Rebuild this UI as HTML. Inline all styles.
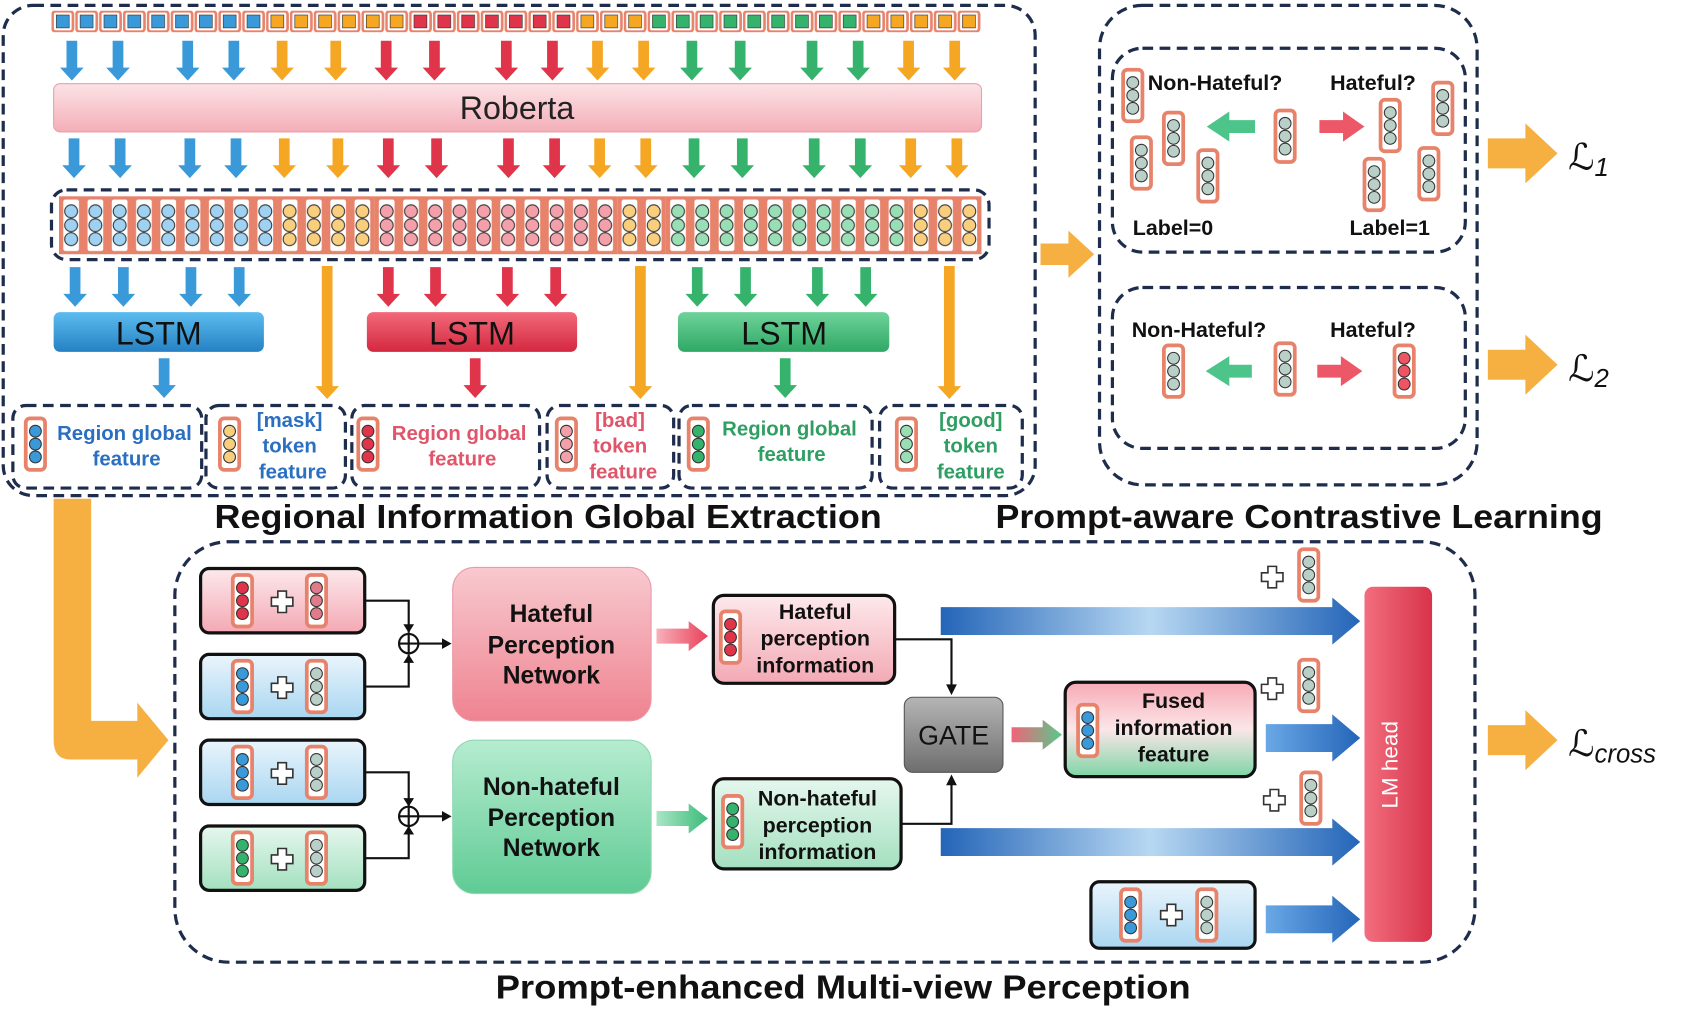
<!DOCTYPE html>
<html><head><meta charset="utf-8"><style>
html,body{margin:0;padding:0;background:#fff}
svg{display:block}
text{font-family:"Liberation Sans","DejaVu Sans",sans-serif}
</style></head><body>
<svg width="1682" height="1033" viewBox="0 0 1568 963" preserveAspectRatio="none" xmlns="http://www.w3.org/2000/svg" xmlns:xlink="http://www.w3.org/1999/xlink">
<defs>
<linearGradient id="gPink" x1="0" y1="0" x2="0" y2="1"><stop offset="0" stop-color="#fbe3e6"/><stop offset="1" stop-color="#f4aeb8"/></linearGradient>
<linearGradient id="gBlueL" x1="0" y1="0" x2="0" y2="1"><stop offset="0" stop-color="#5cbcef"/><stop offset="1" stop-color="#2581c4"/></linearGradient>
<linearGradient id="gRedL" x1="0" y1="0" x2="0" y2="1"><stop offset="0" stop-color="#f26a7a"/><stop offset="1" stop-color="#d4283f"/></linearGradient>
<linearGradient id="gGreenL" x1="0" y1="0" x2="0" y2="1"><stop offset="0" stop-color="#6fd39a"/><stop offset="1" stop-color="#2fa865"/></linearGradient>
<linearGradient id="gHate" x1="0" y1="0" x2="0" y2="1"><stop offset="0" stop-color="#f8c9cf"/><stop offset="1" stop-color="#ef8390"/></linearGradient>
<linearGradient id="gNon" x1="0" y1="0" x2="0" y2="1"><stop offset="0" stop-color="#b6ecd0"/><stop offset="1" stop-color="#5fcb94"/></linearGradient>
<linearGradient id="gInPink" x1="0" y1="0" x2="0" y2="1"><stop offset="0" stop-color="#fde9ec"/><stop offset="1" stop-color="#f3a9b4"/></linearGradient>
<linearGradient id="gInBlue" x1="0" y1="0" x2="0" y2="1"><stop offset="0" stop-color="#eaf5fc"/><stop offset="1" stop-color="#a9d6f1"/></linearGradient>
<linearGradient id="gInGreen" x1="0" y1="0" x2="0" y2="1"><stop offset="0" stop-color="#e6f7ee"/><stop offset="1" stop-color="#a3e0bf"/></linearGradient>
<linearGradient id="gFused" x1="0" y1="0" x2="0" y2="1"><stop offset="0" stop-color="#f7aab5"/><stop offset="0.5" stop-color="#fbe6e8"/><stop offset="1" stop-color="#7fd5a6"/></linearGradient>
<linearGradient id="gGate" x1="0" y1="0" x2="0" y2="1"><stop offset="0" stop-color="#b5b5b5"/><stop offset="1" stop-color="#6e6e6e"/></linearGradient>
<linearGradient id="gLM" x1="0" y1="0" x2="1" y2="0"><stop offset="0" stop-color="#f26e7e"/><stop offset="1" stop-color="#d8334a"/></linearGradient>
<linearGradient id="gBA" x1="0" y1="0" x2="1" y2="0"><stop offset="0" stop-color="#2465b8"/><stop offset="0.5" stop-color="#b8d8f2"/><stop offset="1" stop-color="#2465b8"/></linearGradient>
<linearGradient id="gBA2" x1="0" y1="0" x2="1" y2="0"><stop offset="0" stop-color="#6aa8e6"/><stop offset="1" stop-color="#2465b8"/></linearGradient>
<linearGradient id="gPG" x1="0" y1="0" x2="1" y2="0"><stop offset="0" stop-color="#f06478"/><stop offset="1" stop-color="#58c98b"/></linearGradient>
<linearGradient id="gPA" x1="0" y1="0" x2="1" y2="0"><stop offset="0" stop-color="#f8b0ba"/><stop offset="1" stop-color="#e8425a"/></linearGradient>
<linearGradient id="gGA" x1="0" y1="0" x2="1" y2="0"><stop offset="0" stop-color="#a9e6c5"/><stop offset="1" stop-color="#3cbb7a"/></linearGradient>
<!-- token patterns -->
<pattern id="tb" patternUnits="userSpaceOnUse" x="48" y="10" width="22.23" height="20"><rect x="1" y="0.5" width="19" height="19" rx="3" fill="#fff" stroke="#e8836b" stroke-width="2.5"/><rect x="4.5" y="4" width="12" height="12" fill="#3a9ad9" stroke="#333" stroke-width="0.6"/></pattern>
<pattern id="to" patternUnits="userSpaceOnUse" x="48" y="10" width="22.23" height="20"><rect x="1" y="0.5" width="19" height="19" rx="3" fill="#fff" stroke="#e8836b" stroke-width="2.5"/><rect x="4.5" y="4" width="12" height="12" fill="#f5a623" stroke="#333" stroke-width="0.6"/></pattern>
<pattern id="tr" patternUnits="userSpaceOnUse" x="48" y="10" width="22.23" height="20"><rect x="1" y="0.5" width="19" height="19" rx="3" fill="#fff" stroke="#e8836b" stroke-width="2.5"/><rect x="4.5" y="4" width="12" height="12" fill="#e0344a" stroke="#333" stroke-width="0.6"/></pattern>
<pattern id="tg" patternUnits="userSpaceOnUse" x="48" y="10" width="22.23" height="20"><rect x="1" y="0.5" width="19" height="19" rx="3" fill="#fff" stroke="#e8836b" stroke-width="2.5"/><rect x="4.5" y="4" width="12" height="12" fill="#35b36c" stroke="#333" stroke-width="0.6"/></pattern>
<!-- cell patterns -->
<pattern id="cb" patternUnits="userSpaceOnUse" x="55" y="183" width="22.63" height="54"><rect x="0" y="0" width="22.63" height="54" fill="#e8836b"/><rect x="4" y="3" width="14.6" height="48" rx="2" fill="#fff"/><g fill="#9fd2f2" stroke="#333" stroke-width="1"><circle cx="11.3" cy="14" r="6"/><circle cx="11.3" cy="27" r="6"/><circle cx="11.3" cy="40" r="6"/></g></pattern>
<pattern id="co" patternUnits="userSpaceOnUse" x="55" y="183" width="22.63" height="54"><rect x="0" y="0" width="22.63" height="54" fill="#e8836b"/><rect x="4" y="3" width="14.6" height="48" rx="2" fill="#fff"/><g fill="#f9cf7e" stroke="#333" stroke-width="1"><circle cx="11.3" cy="14" r="6"/><circle cx="11.3" cy="27" r="6"/><circle cx="11.3" cy="40" r="6"/></g></pattern>
<pattern id="cr" patternUnits="userSpaceOnUse" x="55" y="183" width="22.63" height="54"><rect x="0" y="0" width="22.63" height="54" fill="#e8836b"/><rect x="4" y="3" width="14.6" height="48" rx="2" fill="#fff"/><g fill="#f4a0aa" stroke="#333" stroke-width="1"><circle cx="11.3" cy="14" r="6"/><circle cx="11.3" cy="27" r="6"/><circle cx="11.3" cy="40" r="6"/></g></pattern>
<pattern id="cg" patternUnits="userSpaceOnUse" x="55" y="183" width="22.63" height="54"><rect x="0" y="0" width="22.63" height="54" fill="#e8836b"/><rect x="4" y="3" width="14.6" height="48" rx="2" fill="#fff"/><g fill="#99dfb6" stroke="#333" stroke-width="1"><circle cx="11.3" cy="14" r="6"/><circle cx="11.3" cy="27" r="6"/><circle cx="11.3" cy="40" r="6"/></g></pattern>
<g id="pill"><rect x="0" y="0" width="18" height="48" rx="4" fill="#fff" stroke="#e8836b" stroke-width="3.5"/><g fill="currentColor" stroke="#333" stroke-width="1"><circle cx="9" cy="12" r="5.5"/><circle cx="9" cy="24" r="5.5"/><circle cx="9" cy="36" r="5.5"/></g></g>
<path id="ad" d="M-5,0h10v25h6l-11,12l-11,-12h6z" fill="currentColor"/>
<path id="plus" d="M-4,-10h8v6h6v8h-6v6h-8v-6h-6v-8h6z" fill="#fff" stroke="#333" stroke-width="1.5"/>
</defs>

<g fill="none" stroke="#1f2d4d" stroke-width="3" stroke-dasharray="10 6">
<rect x="3" y="5" width="962" height="457" rx="28"/>
<rect x="12" y="378" width="176" height="77" rx="12"/>
<rect x="192" y="378" width="130" height="77" rx="12"/>
<rect x="328" y="378" width="175" height="77" rx="12"/>
<rect x="510" y="378" width="118" height="77" rx="12"/>
<rect x="633" y="378" width="180" height="77" rx="12"/>
<rect x="820" y="378" width="133" height="77" rx="12"/>
<rect x="1025" y="5" width="352" height="447" rx="40"/>
<rect x="1037" y="45" width="329" height="190" rx="28"/>
<rect x="1037" y="268" width="329" height="150" rx="28"/>
<rect x="163" y="505" width="1212" height="392" rx="50"/>
</g>

<!-- token strip -->
<rect x="48" y="10" width="200.07" height="20" fill="url(#tb)"/>
<rect x="248.07" y="10" width="133.38" height="20" fill="url(#to)"/>
<rect x="381.45" y="10" width="155.61" height="20" fill="url(#tr)"/>
<rect x="537.06" y="10" width="66.69" height="20" fill="url(#to)"/>
<rect x="603.75" y="10" width="200.07" height="20" fill="url(#tg)"/>
<rect x="803.82" y="10" width="111.15" height="20" fill="url(#to)"/>

<!-- cell strip -->
<rect x="55" y="183" width="203.67" height="54" fill="url(#cb)"/>
<rect x="258.67" y="183" width="90.52" height="54" fill="url(#co)"/>
<rect x="349.19" y="183" width="226.3" height="54" fill="url(#cr)"/>
<rect x="575.49" y="183" width="45.26" height="54" fill="url(#co)"/>
<rect x="620.75" y="183" width="226.3" height="54" fill="url(#cg)"/>
<rect x="847.05" y="183" width="67.89" height="54" fill="url(#co)"/>
<rect x="48" y="177" width="874" height="65" rx="14" fill="none" stroke="#1f2d4d" stroke-width="3" stroke-dasharray="10 6"/>

<!-- arrows rows 1 and 2 -->
<g>
<use href="#ad" x="67" y="38" color="#3a9ad9"/><use href="#ad" x="110" y="38" color="#3a9ad9"/><use href="#ad" x="175" y="38" color="#3a9ad9"/><use href="#ad" x="218" y="38" color="#3a9ad9"/>
<use href="#ad" x="263" y="38" color="#f5a623"/><use href="#ad" x="313" y="38" color="#f5a623"/>
<use href="#ad" x="360" y="38" color="#e0344a"/><use href="#ad" x="405" y="38" color="#e0344a"/><use href="#ad" x="472" y="38" color="#e0344a"/><use href="#ad" x="515" y="38" color="#e0344a"/>
<use href="#ad" x="557" y="38" color="#f5a623"/><use href="#ad" x="600" y="38" color="#f5a623"/>
<use href="#ad" x="645" y="38" color="#35b36c"/><use href="#ad" x="690" y="38" color="#35b36c"/><use href="#ad" x="757" y="38" color="#35b36c"/><use href="#ad" x="800" y="38" color="#35b36c"/>
<use href="#ad" x="847" y="38" color="#f5a623"/><use href="#ad" x="890" y="38" color="#f5a623"/>

<use href="#ad" x="69" y="129" color="#3a9ad9"/><use href="#ad" x="112" y="129" color="#3a9ad9"/><use href="#ad" x="177" y="129" color="#3a9ad9"/><use href="#ad" x="220" y="129" color="#3a9ad9"/>
<use href="#ad" x="265" y="129" color="#f5a623"/><use href="#ad" x="315" y="129" color="#f5a623"/>
<use href="#ad" x="362" y="129" color="#e0344a"/><use href="#ad" x="407" y="129" color="#e0344a"/><use href="#ad" x="474" y="129" color="#e0344a"/><use href="#ad" x="517" y="129" color="#e0344a"/>
<use href="#ad" x="559" y="129" color="#f5a623"/><use href="#ad" x="602" y="129" color="#f5a623"/>
<use href="#ad" x="647" y="129" color="#35b36c"/><use href="#ad" x="692" y="129" color="#35b36c"/><use href="#ad" x="759" y="129" color="#35b36c"/><use href="#ad" x="802" y="129" color="#35b36c"/>
<use href="#ad" x="849" y="129" color="#f5a623"/><use href="#ad" x="892" y="129" color="#f5a623"/>

<use href="#ad" x="70" y="249" color="#3a9ad9"/><use href="#ad" x="115" y="249" color="#3a9ad9"/><use href="#ad" x="178" y="249" color="#3a9ad9"/><use href="#ad" x="223" y="249" color="#3a9ad9"/>
<use href="#ad" x="362" y="249" color="#e0344a"/><use href="#ad" x="406" y="249" color="#e0344a"/><use href="#ad" x="473" y="249" color="#e0344a"/><use href="#ad" x="518" y="249" color="#e0344a"/>
<use href="#ad" x="650" y="249" color="#35b36c"/><use href="#ad" x="695" y="249" color="#35b36c"/><use href="#ad" x="762" y="249" color="#35b36c"/><use href="#ad" x="807" y="249" color="#35b36c"/>

<use href="#ad" x="153" y="334" color="#3a9ad9"/><use href="#ad" x="443" y="334" color="#e0344a"/><use href="#ad" x="732" y="334" color="#35b36c"/>
</g>
<g fill="#f5a623">
<path d="M300,248h10v112h6l-11,12l-11,-12h6z"/>
<path d="M592,248h10v112h6l-11,12l-11,-12h6z"/>
<path d="M880,248h10v112h6l-11,12l-11,-12h6z"/>
</g>

<rect x="50" y="78" width="865" height="45" rx="6" fill="url(#gPink)" stroke="#e8a0aa"/>
<text x="482" y="111" font-size="30" text-anchor="middle" fill="#222">Roberta</text>
<rect x="50" y="291" width="196" height="37" rx="6" fill="url(#gBlueL)"/>
<rect x="342" y="291" width="196" height="37" rx="6" fill="url(#gRedL)"/>
<rect x="632" y="291" width="197" height="37" rx="6" fill="url(#gGreenL)"/>
<g font-size="30" text-anchor="middle" fill="#111"><text x="148" y="321">LSTM</text><text x="440" y="321">LSTM</text><text x="731" y="321">LSTM</text></g>

<!-- feature pills -->
<use href="#pill" x="24" y="390" color="#3a9ad9"/>
<use href="#pill" x="205" y="390" color="#f9cf7e"/>
<use href="#pill" x="334" y="390" color="#e0344a"/>
<use href="#pill" x="519" y="390" color="#f4a0aa"/>
<use href="#pill" x="642" y="390" color="#35b36c"/>
<use href="#pill" x="836" y="390" color="#99dfb6"/>

<g font-size="19" font-weight="bold" text-anchor="middle">
<text x="116" y="410" fill="#2a6fc0">Region global</text><text x="118" y="434" fill="#2a6fc0">feature</text>
<text x="270" y="398" fill="#2a6fc0">[mask]</text><text x="270" y="422" fill="#2a6fc0">token</text><text x="273" y="446" fill="#2a6fc0">feature</text>
<text x="428" y="410" fill="#e0556a">Region global</text><text x="431" y="434" fill="#e0556a">feature</text>
<text x="578" y="398" fill="#e0556a">[bad]</text><text x="578" y="422" fill="#e0556a">token</text><text x="581" y="446" fill="#e0556a">feature</text>
<text x="736" y="406" fill="#2f9e62">Region global</text><text x="738" y="430" fill="#2f9e62">feature</text>
<text x="905" y="398" fill="#2f9e62">[good]</text><text x="905" y="422" fill="#2f9e62">token</text><text x="905" y="446" fill="#2f9e62">feature</text>
</g>
<g font-size="31" font-weight="bold" text-anchor="middle" fill="#111">
<text x="511" y="492" textLength="622" lengthAdjust="spacingAndGlyphs">Regional Information Global Extraction</text>
<text x="1211" y="492" textLength="566" lengthAdjust="spacingAndGlyphs">Prompt-aware Contrastive Learning</text>
<text x="786" y="931" textLength="648" lengthAdjust="spacingAndGlyphs">Prompt-enhanced Multi-view Perception</text>
</g>

<!-- right panel -->
<g font-size="20" font-weight="bold" fill="#111">
<text x="1070" y="84">Non-Hateful?</text><text x="1240" y="84">Hateful?</text>
<text x="1056" y="219">Label=0</text><text x="1258" y="219">Label=1</text>
<text x="1055" y="314">Non-Hateful?</text><text x="1240" y="314">Hateful?</text>
</g>
<g color="#b9d0c8">
<use href="#pill" x="1047" y="65"/><use href="#pill" x="1085" y="105"/><use href="#pill" x="1055" y="128"/><use href="#pill" x="1117" y="140"/>
<use href="#pill" x="1189" y="103"/><use href="#pill" x="1287" y="93"/><use href="#pill" x="1336" y="77"/><use href="#pill" x="1272" y="148"/><use href="#pill" x="1323" y="138"/>
<use href="#pill" x="1085" y="322"/><use href="#pill" x="1189" y="320"/>
</g>
<use href="#pill" x="1300" y="322" color="#ee5563"/>
<polygon points="1170,112 1146,112 1146,104 1125,118 1146,132 1146,124 1170,124" fill="#4cc48a"/>
<polygon points="1230,112 1252,112 1252,104 1272,118 1252,132 1252,124 1230,124" fill="#ec5868"/>
<polygon points="1167,340 1146,340 1146,332 1124,346 1146,360 1146,352 1167,352" fill="#4cc48a"/>
<polygon points="1228,340 1250,340 1250,332 1270,346 1250,360 1250,352 1228,352" fill="#ec5868"/>
<g fill="#f6b042">
<polygon points="1387,129 1422,129 1422,115 1452,143 1422,171 1422,157 1387,157"/>
<polygon points="1387,326 1422,326 1422,312 1452,340 1422,368 1422,354 1387,354"/>
<polygon points="1387,676 1422,676 1422,662 1452,690 1422,718 1422,704 1387,704"/>
<polygon points="970,227 996,227 996,215 1020,237 996,259 996,247 970,247"/>
<path d="M50,465 L85,465 L85,672 L128,672 L128,655 L157,690 L128,725 L128,708 L65,708 Q50,708 50,690 Z"/>
</g>
<g font-family="Liberation Serif" font-style="italic" font-size="34" fill="#111">
<text x="1462" y="158">ℒ<tspan font-size="24" dy="6">1</tspan></text>
<text x="1462" y="355">ℒ<tspan font-size="24" dy="6">2</tspan></text>
<text x="1462" y="705">ℒ<tspan font-size="24" dy="6">cross</tspan></text>
</g>

<!-- bottom boxes -->
<g stroke="#111" stroke-width="3">
<rect x="187" y="530" width="153" height="60" rx="8" fill="url(#gInPink)"/>
<rect x="187" y="610" width="153" height="60" rx="8" fill="url(#gInBlue)"/>
<rect x="187" y="690" width="153" height="60" rx="8" fill="url(#gInBlue)"/>
<rect x="187" y="770" width="153" height="60" rx="8" fill="url(#gInGreen)"/>
<rect x="665" y="555" width="169" height="82" rx="10" fill="url(#gInPink)"/>
<rect x="665" y="726" width="175" height="84" rx="10" fill="url(#gInGreen)"/>
<rect x="993" y="636" width="177" height="88" rx="10" fill="url(#gFused)"/>
<rect x="1017" y="822" width="153" height="62" rx="8" fill="url(#gInBlue)"/>
</g>
<rect x="422" y="529" width="185" height="143" rx="20" fill="url(#gHate)" stroke="#e89aa5"/>
<rect x="422" y="690" width="185" height="143" rx="20" fill="url(#gNon)" stroke="#8fd8b0"/>
<rect x="843" y="650" width="92" height="70" rx="8" fill="url(#gGate)" stroke="#555"/>
<rect x="1272" y="547" width="63" height="331" rx="8" fill="url(#gLM)"/>

<use href="#pill" x="217" y="536" color="#e0344a"/><use href="#plus" x="263" y="561"/><use href="#pill" x="286" y="536" color="#e07b8a"/>
<use href="#pill" x="217" y="616" color="#3a9ad9"/><use href="#plus" x="263" y="641"/><use href="#pill" x="286" y="616" color="#b9d0c8"/>
<use href="#pill" x="217" y="696" color="#3a9ad9"/><use href="#plus" x="263" y="721"/><use href="#pill" x="286" y="696" color="#b9d0c8"/>
<use href="#pill" x="217" y="776" color="#35b36c"/><use href="#plus" x="263" y="801"/><use href="#pill" x="286" y="776" color="#b9d0c8"/>
<use href="#pill" x="1045" y="829" color="#3a9ad9"/><use href="#plus" x="1092" y="853"/><use href="#pill" x="1116" y="829" color="#b9d0c8"/>
<use href="#plus" x="1186" y="538"/><use href="#pill" x="1211" y="512" color="#b9d0c8"/>
<use href="#plus" x="1186" y="642"/><use href="#pill" x="1211" y="615" color="#b9d0c8"/>
<use href="#plus" x="1188" y="746"/><use href="#pill" x="1213" y="720" color="#b9d0c8"/>
<use href="#pill" x="672" y="570" color="#e0344a"/>
<use href="#pill" x="674" y="742" color="#35b36c"/>
<use href="#pill" x="1005" y="657" color="#3a9ad9"/>

<polygon points="612,586 642,586 642,579 660,593 642,607 642,600 612,600" fill="url(#gPA)"/>
<polygon points="612,756 642,756 642,749 660,763 642,777 642,770 612,770" fill="url(#gGA)"/>
<polygon points="943,678 972,678 972,671 990,685 972,699 972,692 943,692" fill="url(#gPG)"/>
<polygon points="877,566 1242,566 1242,557 1268,579 1242,601 1242,592 877,592" fill="url(#gBA)"/>
<polygon points="877,772 1242,772 1242,763 1268,785 1242,807 1242,798 877,798" fill="url(#gBA)"/>
<polygon points="1180,675 1242,675 1242,666 1268,688 1242,710 1242,701 1180,701" fill="url(#gBA2)"/>
<polygon points="1180,844 1242,844 1242,835 1268,857 1242,879 1242,870 1180,870" fill="url(#gBA2)"/>

<g font-size="23" font-weight="bold" text-anchor="middle" fill="#111">
<text x="514" y="580">Hateful</text><text x="514" y="609">Perception</text><text x="514" y="637">Network</text>
<text x="514" y="741">Non-hateful</text><text x="514" y="770">Perception</text><text x="514" y="798">Network</text>
</g>
<g font-size="20" font-weight="bold" text-anchor="middle" fill="#111">
<text x="760" y="577">Hateful</text><text x="760" y="602">perception</text><text x="760" y="627">information</text>
<text x="762" y="751">Non-hateful</text><text x="762" y="776">perception</text><text x="762" y="801">information</text>
<text x="1094" y="660">Fused</text><text x="1094" y="685">information</text><text x="1094" y="710">feature</text>
</g>
<text x="889" y="694" font-size="25" text-anchor="middle" fill="#111">GATE</text>
<text x="1303" y="713" font-size="21" fill="#fff" text-anchor="middle" transform="rotate(-90 1303 713)">LM head</text>

<g stroke="#111" stroke-width="2" fill="none">
<polyline points="340,560 381,560 381,590"/><polyline points="340,640 381,640 381,610"/>
<circle cx="381" cy="600" r="9"/><line x1="372" y1="600" x2="390" y2="600"/><line x1="381" y1="591" x2="381" y2="609"/>
<line x1="390" y1="600" x2="418" y2="600"/>
<polyline points="340,720 381,720 381,752"/><polyline points="340,800 381,800 381,770"/>
<circle cx="381" cy="761" r="9"/><line x1="372" y1="761" x2="390" y2="761"/><line x1="381" y1="752" x2="381" y2="770"/>
<line x1="390" y1="761" x2="418" y2="761"/>
<polyline points="834,596 887,596 887,644"/><polyline points="840,768 887,768 887,726"/>
</g>
<g fill="#111">
<polygon points="381,590 376,582 386,582"/><polygon points="381,610 376,618 386,618"/>
<polygon points="421,600 412,595 412,605"/><polygon points="381,752 376,744 386,744"/><polygon points="381,770 376,778 386,778"/>
<polygon points="421,761 412,756 412,766"/><polygon points="887,648 882,638 892,638"/><polygon points="887,722 882,732 892,732"/>
</g>
</svg>
</body></html>
